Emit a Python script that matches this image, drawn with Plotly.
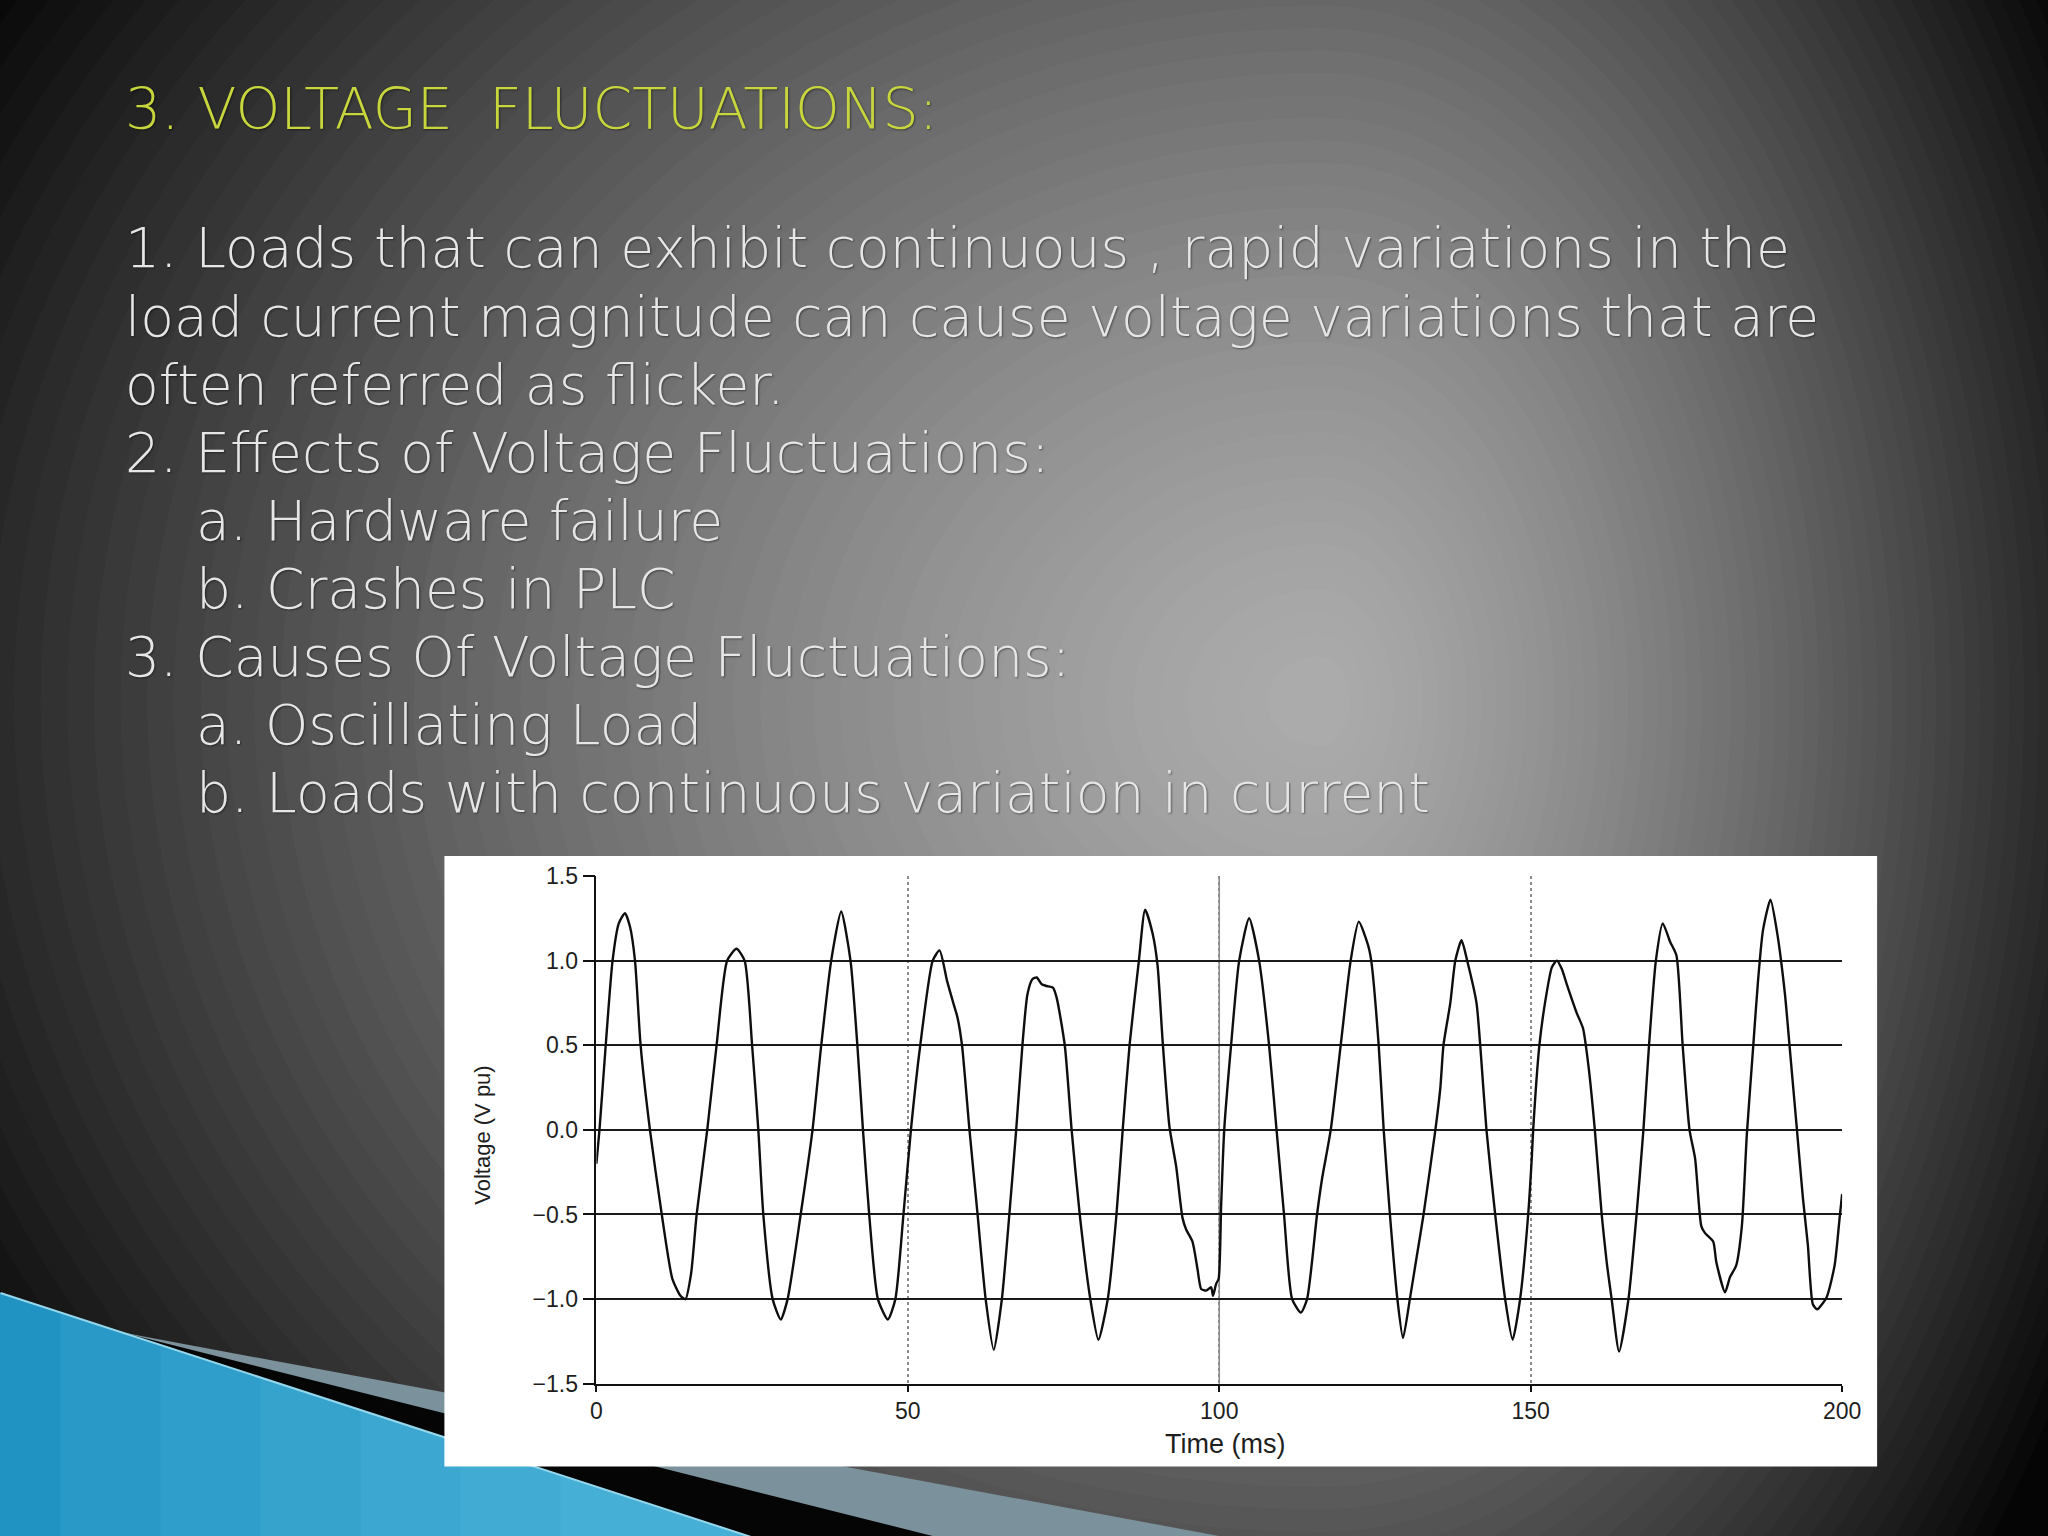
import plotly.graph_objects as go

W, H = 2048, 1536

# ---------------- data ----------------
time_ms = [0.0, 0.5, 1.5, 2.6, 3.6, 4.6, 5.4, 6.2, 7.1, 8.6, 10.5, 12.2, 13.5, 14.3, 15.2, 16.1,
           17.8, 19.3, 21.0, 22.5, 23.8, 25.0, 26.0, 26.8, 28.3, 29.6, 30.7, 32.8, 34.7, 36.1,
           37.7, 39.3, 40.8, 41.9, 42.8, 43.8, 45.2, 46.8, 48.0, 49.3, 50.5, 52.0, 54.0, 55.1,
           56.3, 57.3, 58.0, 58.7, 59.9, 61.2, 62.5, 63.8, 65.1, 66.3, 67.4, 68.4, 69.2, 70.0,
           70.7, 71.5, 72.3, 73.3, 73.9, 75.2, 76.3, 77.6, 79.3, 80.6, 82.1, 83.5, 84.5, 85.6,
           87.1, 88.1, 89.3, 90.1, 90.9, 92.0, 93.1, 94.1, 94.7, 95.7, 96.5, 97.1, 97.9, 98.7,
           99.0, 99.5, 99.9, 100.3, 100.8, 101.9, 103.2, 104.8, 106.4, 108.0, 109.2, 110.4,
           111.7, 113.1, 114.1, 115.7, 116.5, 117.9, 119.5, 121.1, 122.4, 123.9, 124.4, 125.6,
           126.4, 127.4, 128.6, 129.5, 130.6, 131.7, 132.8, 134.7, 135.5, 136.0, 137.1, 137.9,
           138.9, 139.8, 141.3, 141.9, 142.9, 144.3, 145.9, 147.1, 148.3, 149.6, 150.2, 150.4,
           151.4, 152.3, 153.4, 154.2, 155.0, 155.8, 157.4, 158.4, 159.3, 160.3, 161.4, 162.2,
           163.0, 164.2, 165.7, 167.0, 168.1, 169.0, 170.1, 171.2, 172.4, 173.4, 174.4, 175.5,
           176.4, 177.4, 178.0, 179.3, 179.8, 181.2, 182.0, 183.0, 183.9, 184.7, 185.7, 186.5,
           187.3, 188.5, 189.5, 190.8, 191.6, 192.7, 193.7, 194.5, 195.3, 196.0, 197.5, 198.8,
           199.6, 200.0]
voltage_pu = [-0.20, 0.0, 0.5, 1.0, 1.22, 1.28, 1.20, 1.0, 0.5, 0.0, -0.5, -0.88, -0.98, -1.0, -0.85, -0.5,
              0.0, 0.5, 1.0, 1.07, 1.0, 0.5, 0.0, -0.5, -1.0, -1.12, -1.0, -0.5, 0.0, 0.5,
              1.0, 1.29, 1.0, 0.5, 0.0, -0.5, -1.0, -1.12, -1.0, -0.5, 0.0, 0.5, 1.0, 1.06,
              0.88, 0.75, 0.66, 0.5, 0.0, -0.5, -1.0, -1.30, -1.0, -0.5, 0.0, 0.5, 0.80, 0.89,
              0.90, 0.86, 0.85, 0.84, 0.78, 0.5, 0.0, -0.5, -1.0, -1.24, -1.0, -0.5, 0.0, 0.5,
              1.0, 1.30, 1.16, 0.97, 0.53, 0.02, -0.22, -0.52, -0.59, -0.66, -0.82, -0.94, -0.95, -0.93,
              -0.98, -0.91, -0.88, -0.45, 0.0, 0.5, 1.0, 1.25, 1.0, 0.5, 0.0, -0.5,
              -1.0, -1.08, -1.0, -0.5, -0.29, 0.0, 0.5, 1.0, 1.23, 1.09, 1.0, 0.5,
              0.0, -0.5, -1.0, -1.23, -1.0, -0.75, -0.5, 0.0, 0.25, 0.5, 0.75, 1.0,
              1.12, 1.0, 0.75, 0.5, 0.0, -0.5, -1.0, -1.24, -1.0, -0.5, -0.15, 0.0,
              0.5, 0.75, 0.96, 1.0, 0.95, 0.86, 0.69, 0.60, 0.37, 0.0, -0.5, -0.78,
              -1.0, -1.31, -1.0, -0.5, 0.0, 0.5, 1.0, 1.22, 1.11, 1.03, 0.5, 0.0,
              -0.17, -0.57, -0.61, -0.66, -0.78, -0.96, -0.87, -0.80, -0.57, -0.03, 0.48, 0.88,
              1.18, 1.36, 1.18, 0.81, 0.48, 0.02, -0.40, -0.68, -1.03, -1.06, -0.99, -0.80,
              -0.52, -0.38]

X_TICKS = [0, 50, 100, 150, 200]
X_TICK_LABELS = ["0", "50", "100", "150", "200"]
Y_TICKS = [-1.5, -1.0, -0.5, 0.0, 0.5, 1.0, 1.5]
Y_TICK_LABELS = ["\u22121.5", "\u22121.0", "\u22120.5", "0.0", "0.5", "1.0", "1.5"]

TITLE = "3. VOLTAGE\u00a0 FLUCTUATIONS:"
BODY_LINES = [
    ("1. Loads that can exhibit continuous , rapid variations in the", 0),
    ("load current magnitude can cause voltage variations that are", 0),
    ("often referred as flicker.", 0),
    ("2. Effects of Voltage Fluctuations:", 0),
    ("a. Hardware failure", 1),
    ("b. Crashes in PLC", 1),
    ("3. Causes Of Voltage Fluctuations:", 0),
    ("a. Oscillating Load", 1),
    ("b. Loads with continuous variation in current", 1),
]
X_TITLE = "Time (ms)"
Y_TITLE = "Voltage (V pu)"

# Layout positions below are given in target picture pixels; the renderer
# photographs the page at a slightly reduced scale with a small offset, which
# these factors compensate for.
SX, OX = 0.988, 5.5
SY, OY = 0.9854, 10.0


def PX(x):
    return ((x - OX) / SX) / W


def PY(y):
    return 1 - ((y - OY) / SY) / H


PLOT_L, PLOT_R, PLOT_T, PLOT_B = 596, 1842, 875, 1384
BOX_L, BOX_R, BOX_T, BOX_B = 444, 1877, 855, 1467

shapes = []


def pt(x, y):
    return "%.5f,%.5f" % (PX(x), PY(y))


def ellipse_path(cx, cy, rr, rl, rt, rb):
    k = 0.5523
    return ("M " + pt(cx + rr, cy)
            + " C " + pt(cx + rr, cy + k * rb) + " " + pt(cx + k * rr, cy + rb) + " " + pt(cx, cy + rb)
            + " C " + pt(cx - k * rl, cy + rb) + " " + pt(cx - rl, cy + k * rb) + " " + pt(cx - rl, cy)
            + " C " + pt(cx - rl, cy - k * rt) + " " + pt(cx - k * rl, cy - rt) + " " + pt(cx, cy - rt)
            + " C " + pt(cx + k * rr, cy - rt) + " " + pt(cx + rr, cy - k * rt) + " " + pt(cx + rr, cy)
            + " Z")


# ---- radial background gradient (concentric, off-centre ellipses) ----
CX, CY = 1320, 700
R_RIGHT, R_LEFT, R_TOP, R_BOTTOM = 880, 1600, 1350, 1350
EDGE_V, CENTER_V = 5, 172
N = 60
for k in range(N):
    f = 1 - k / N
    t = 1 - f ** 1.4
    v = int(round(EDGE_V + (CENTER_V - EDGE_V) * t))
    shapes.append(dict(type="path", xref="paper", yref="paper", layer="below",
                       path=ellipse_path(CX, CY, R_RIGHT * f, R_LEFT * f, R_TOP * f, R_BOTTOM * f),
                       fillcolor="rgb(%d,%d,%d)" % (v, v, v), line=dict(width=0)))


def poly(pts, fill):
    d = "M " + " L ".join(pt(x, y) for x, y in pts) + " Z"
    return dict(type="path", xref="paper", yref="paper", layer="below", path=d,
                fillcolor=fill, line=dict(width=0))


# ---- decorative stripes bottom-left ----
BOT = 1560
SLOPE = (1538 - 1293) / 752.0
TIP = (120, 1293 + 120 * SLOPE)
BLUE_END = 752 + (BOT - 1538) / SLOPE
shapes.append(poly([TIP, (150, 1338), (1215 + (BOT - 1536) / 0.185, BOT), (BLUE_END, BOT)], "#7b919b"))
shapes.append(poly([TIP, (930 + (BOT - 1536) / 0.252, BOT), (BLUE_END, BOT)], "#050505"))
shapes.append(poly([(-20, 1293 - 20 * SLOPE), (BLUE_END, BOT), (-20, BOT)], "#2193c3"))
for xk in [60, 160, 260, 360, 460, 560]:
    shapes.append(poly([(xk, 1293 + xk * SLOPE), (BLUE_END, BOT), (xk, BOT)],
                       "rgba(130,220,248,0.085)"))
shapes.append(dict(type="line", xref="paper", yref="paper", layer="below",
                   x0=PX(0), y0=PY(1293), x1=PX(BLUE_END), y1=PY(BOT),
                   line=dict(color="#95d8ee", width=2)))

# ---- white chart panel ----
shapes.append(dict(type="rect", xref="paper", yref="paper", layer="below",
                   x0=PX(BOX_L), x1=PX(BOX_R), y0=PY(BOX_B), y1=PY(BOX_T),
                   fillcolor="white", line=dict(width=0)))

# solid vertical line at 100 ms
shapes.append(dict(type="line", xref="x", yref="paper", layer="between",
                   x0=100, x1=100, y0=PY(PLOT_B), y1=PY(PLOT_T),
                   line=dict(color="#8c8c8c", width=1.6)))

# ---------------- text ----------------
annotations = []
TXT_SHADOW = "1px 1px 2px rgba(0,0,0,0.45)"
TEXT_FAMILY = "DejaVu Sans, Open Sans, sans-serif"
annotations.append(dict(text=TITLE, x=PX(122.4), y=PY(106), xref="paper", yref="paper",
                        xanchor="left", yanchor="middle", showarrow=False,
                        font=dict(family=TEXT_FAMILY, size=57, weight=200,
                                  color="#c8d63e", shadow=TXT_SHADOW)))
LINE_Y0, LINE_DY = 246, 68.24
for i, (txt, indent) in enumerate(BODY_LINES):
    annotations.append(dict(text=txt, x=PX(122.4 + 71.3 * indent), y=PY(LINE_Y0 + LINE_DY * i),
                            xref="paper", yref="paper", xanchor="left", yanchor="middle",
                            showarrow=False,
                            font=dict(family=TEXT_FAMILY, size=55.2, weight=200,
                                      color="#e6e6e6", shadow=TXT_SHADOW)))

AX_FONT = dict(family="Liberation Sans, Arial, sans-serif", color="#1e1e1e")
annotations.append(dict(text=Y_TITLE, x=PX(482), y=PY(1135), xref="paper", yref="paper",
                        xanchor="center", yanchor="middle", textangle=-90, showarrow=False,
                        font=dict(size=22, **AX_FONT)))
annotations.append(dict(text=X_TITLE, x=PX(1225), y=PY(1444), xref="paper", yref="paper",
                        xanchor="center", yanchor="middle", showarrow=False,
                        font=dict(size=27, **AX_FONT)))

# ---------------- figure ----------------
fig = go.Figure()
fig.add_trace(go.Scatter(x=time_ms, y=voltage_pu, mode="lines",
                         line=dict(color="#0e0e0e", width=2.4, shape="spline", smoothing=0.6),
                         hoverinfo="skip", showlegend=False))

dom_x = [PX(PLOT_L), PX(PLOT_R)]
dom_y = [PY(PLOT_B), PY(PLOT_T)]
TICKC = "#111111"

fig.update_layout(
    width=W, height=H, autosize=False,
    margin=dict(l=0, r=0, t=0, b=0, pad=0),
    paper_bgcolor="rgb(5,5,5)", plot_bgcolor="rgba(0,0,0,0)",
    showlegend=False,
    shapes=shapes, annotations=annotations,
    xaxis=dict(domain=dom_x, range=[0, 200], anchor="y", tickmode="array",
               tickvals=X_TICKS, ticktext=X_TICK_LABELS, ticks="outside", ticklen=6,
               tickwidth=1.5, tickcolor=TICKC, showline=True, linecolor=TICKC, linewidth=1.6,
               showgrid=True, gridcolor="#8c8c8c", griddash="dot", gridwidth=1.6,
               zeroline=False, fixedrange=True,
               tickfont=dict(size=23, **AX_FONT)),
    xaxis2=dict(overlaying="x", range=[0, 200], anchor="y", side="bottom", tickmode="linear",
                tick0=0, dtick=10, ticks="inside", ticklen=6, tickwidth=1.5, tickcolor=TICKC,
                showticklabels=False, showgrid=False, zeroline=False, showline=True,
                linecolor=TICKC, linewidth=1.6, mirror="allticks", fixedrange=True),
    xaxis3=dict(overlaying="x", range=[0, 200], anchor="y", side="bottom", tickmode="linear",
                tick0=0, dtick=10, ticks="outside", ticklen=6, tickwidth=1.5, tickcolor=TICKC,
                showticklabels=False, showgrid=False, zeroline=False, showline=False,
                fixedrange=True),
    yaxis=dict(domain=dom_y, range=[-1.5, 1.5], anchor="x", tickmode="array",
               tickvals=Y_TICKS, ticktext=Y_TICK_LABELS, ticks="outside", ticklen=12,
               tickwidth=1.5, tickcolor=TICKC, showline=True, linecolor=TICKC, linewidth=1.6,
               showgrid=True, gridcolor="#1a1a1a", gridwidth=1.6, zeroline=False,
               fixedrange=True, tickfont=dict(size=23, **AX_FONT)),
    yaxis2=dict(overlaying="y", range=[-1.5, 1.5], anchor="x", side="left", tickmode="linear",
                tick0=-1.5, dtick=0.1, ticks="inside", ticklen=6, tickwidth=1.5, tickcolor=TICKC,
                showticklabels=False, showgrid=False, zeroline=False, showline=True,
                linecolor=TICKC, linewidth=1.6, mirror="allticks", fixedrange=True),
    yaxis3=dict(overlaying="y", range=[-1.5, 1.5], anchor="x", side="left", tickmode="linear",
                tick0=-1.5, dtick=0.1, ticks="outside", ticklen=6, tickwidth=1.5, tickcolor=TICKC,
                showticklabels=False, showgrid=False, zeroline=False, showline=False,
                fixedrange=True),
)

fig.write_html("out.html", config={"displayModeBar": False},
               post_script=("document.body.style.margin='0';"
                            "document.documentElement.style.background='#0a0a0a';"
                            "document.body.style.background='#0a0a0a';"))
